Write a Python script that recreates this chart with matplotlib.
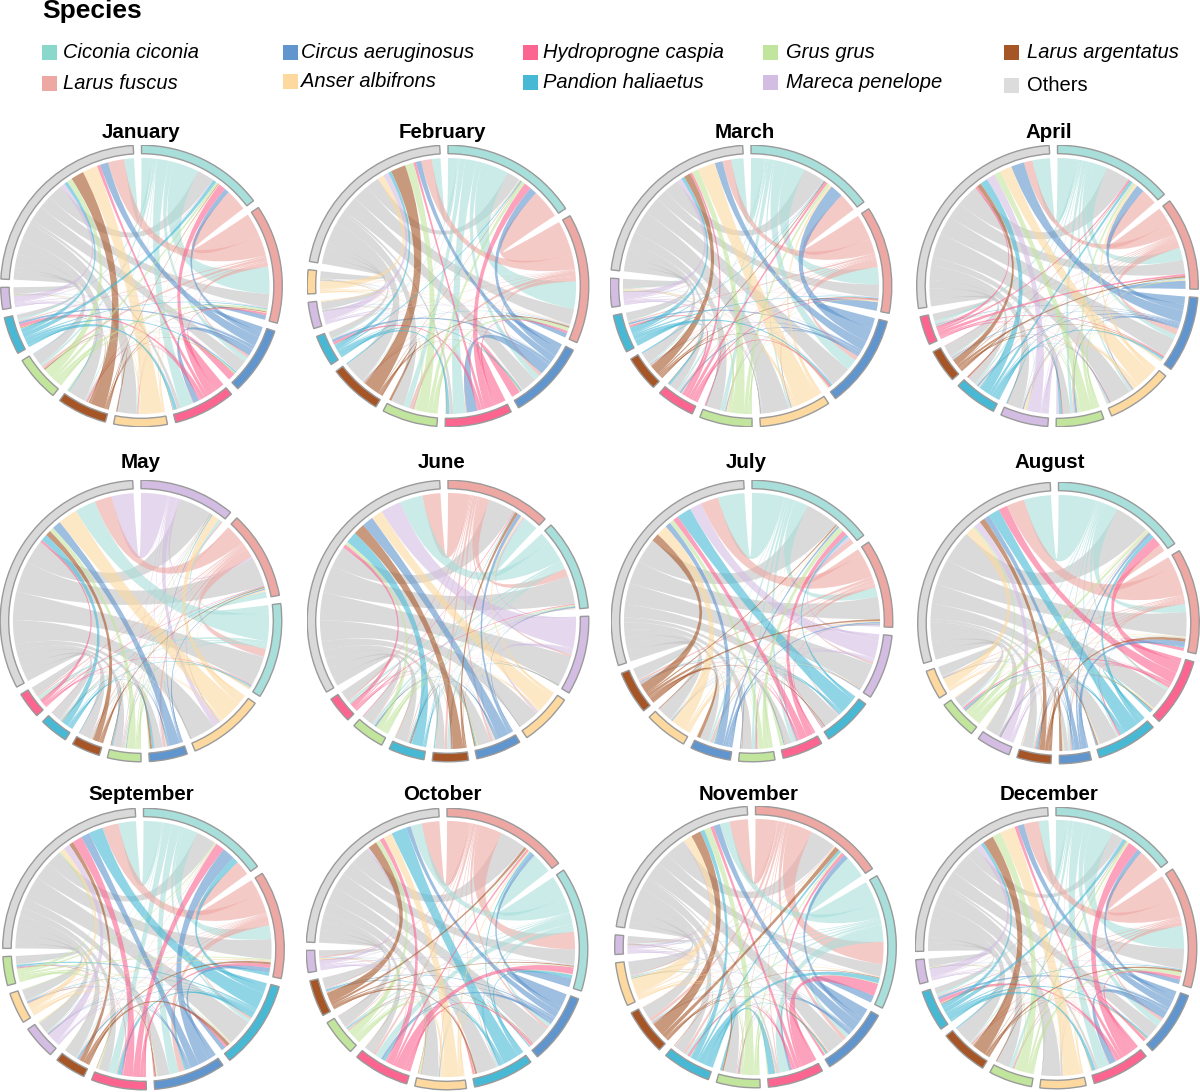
import numpy as np
import matplotlib
matplotlib.use('Agg')
import matplotlib.pyplot as plt
from matplotlib.patches import PathPatch, Rectangle, Wedge
from matplotlib.path import Path

plt.rcParams['font.family'] = ['Liberation Sans', 'DejaVu Sans']

species = ['C', 'F', 'B', 'A', 'H', 'P', 'G', 'M', 'L', 'O']
names = {'C': 'Ciconia ciconia', 'F': 'Larus fuscus', 'B': 'Circus aeruginosus', 'A': 'Anser albifrons',
         'H': 'Hydroprogne caspia', 'P': 'Pandion haliaetus', 'G': 'Grus grus', 'M': 'Mareca penelope',
         'L': 'Larus argentatus', 'O': 'Others'}
ring_col = {'C': '#a8dfda', 'F': '#eea8a3', 'B': '#6095cd', 'A': '#fdd9a0', 'H': '#fb6590',
            'P': '#47b9d5', 'G': '#c2e59d', 'M': '#d3bde3', 'L': '#a65526', 'O': '#d9d9d9'}
legend_col = dict(ring_col, C='#8ad8cc', O='#dcdcdc')
ribbon_col = dict(ring_col, O='#c2c2c2')

months = ['January', 'February', 'March', 'April', 'May', 'June', 'July', 'August',
          'September', 'October', 'November', 'December']

# sector order clockwise from 12 o'clock, sector size and outgoing wedge in degrees,
# then for each sector the incoming bands as read clockwise round it (sources i-1, i-2 ... i+1)
jan_order = list('CFBHALGPMO')
jan_size = [52.5, 49, 28, 25.6, 22, 20.6, 19, 15.5, 9, 83.4]
jan_out = [26, 25, 14, 13, 12, 9.5, 10, 9, 5, 48]
jan_in = [[7, .3, 1.5, 1, .3, .3, 3, 2, 9],
          [12, 6, .3, .4, 1, .4, .3, 1, 2],
          [1.5, 2.5, 7, .2, .8, .5, .3, .2, 4],
          [2.5, .3, 5.5, 1.5, .2, 1.5, .2, .2, .1],
          [.3, .1, .1, .3, 8, .3, .1, .1, .6],
          [.3, .5, .2, .5, .4, 7, .1, .4, .6],
          [.6, .1, .2, .1, 1.2, 1.2, 6, .2, .2],
          [.2, .3, .2, 1.5, 1, .5, 1, 2, .1],
          [.1, .4, .1, .1, .1, .1, .1, .1, 3.5],
          [2, 1.5, 2.5, 6, 7, 1.5, 3.8, 7.5, 4.5]]

feb_order = list('CFBHGLPMAO')
feb_size = [57, 54, 33, 28, 23, 22, 13, 11, 10, 77]
feb_out = [28, 28, 16, 13.5, 11, 10, 6.5, 6, 5.5, 47]
feb_in = [[5.5, .3, .2, .5, .2, 1.5, 3, 3, 12],
          [12, 7, .3, .3, .2, .6, 1.5, 1, 2],
          [1.5, 2.5, 7, .2, .2, .6, .2, .4, 4],
          [4, .4, 5, 1.2, .1, .1, 1.2, .2, .2],
          [.3, .1, 1.5, 2.5, 5, .1, .1, .1, 1],
          [.2, .2, .2, .3, .3, 9, .1, .1, .6],
          [.1, .1, 1, 1, .2, .5, 2.5, .1, .1],
          [.1, .1, .2, .1, .1, .1, .2, 3.5, .5],
          [.3, .1, .1, .3, .1, .1, .1, .1, 3],
          [3, 2.5, 1.5, 7, 4, 1.2, 2.5, 5, 4]]

mar_order = list('CFBAGHLPMO')
mar_size = [54, 45, 39, 30, 22, 16, 15, 16, 12, 81]
mar_out = [25, 25, 19, 15, 11, 8, 7.5, 9, 6, 49]
mar_in = [[8, .3, .3, .4, 1, 1, 1, 5, 7],
          [8, 6, .2, .4, .4, .5, .3, .4, 4],
          [2, 5, 9, .3, .8, .3, .8, .4, .3],
          [.4, .3, .8, 12, .5, .2, .2, .1, .3],
          [.7, .4, .3, 2, 6, .2, .2, .3, .5],
          [.2, .1, .7, .3, .8, 3, .1, .8, .2],
          [.2, .2, .1, .3, .2, .5, 4.5, .1, .6],
          [.1, .8, .2, .1, .8, .6, .4, 3.5, .1],
          [.1, .1, .1, .4, .6, .1, .1, .3, 4],
          [2, 1.5, 3, 1, 3, 8, 3.5, 4, 5.5]]

apr_order = list('CFBAGMPLHO')
apr_size = [50, 39, 32, 28, 20, 20, 18, 14, 12, 97]
apr_out = [23, 20, 15, 14, 10, 10, 10.5, 6.5, 6, 60]
apr_in = [[9, .6, .2, 1, .2, 1, 1, 3, 6],
          [6, 7, 1, .8, .3, .2, .5, .5, 4],
          [2.5, 2, 8, .4, .3, .8, .3, .4, .5],
          [.5, .5, 1, 10, .2, .2, .4, .8, .4],
          [.3, 1, .6, 1.5, 3.5, .2, .3, 1.2, 1.3],
          [.4, 1, .5, .3, .3, 6, .1, .1, .5],
          [.2, .2, .2, .7, .3, .8, 3.5, .2, .6],
          [.2, .2, .1, .1, .3, .3, .4, 4.5, .1],
          [.1, .2, .1, .1, .1, .3, .3, 1.2, 3],
          [1, 2, 3.5, 4, 3, 5.5, 6, 4, 8]]

may_order = list('MFCABGLPHO')
may_size = [40, 37, 40, 32, 16, 14, 12, 12, 11, 116]
may_out = [18, 17, 20, 16, 7.5, 6.5, 5, 5.5, 4, 67]
may_in = [[11, .1, .1, .1, .3, .3, 2.5, 1, .5],
          [1, 14, .3, .3, .5, .3, .6, .8, 3],
          [3.5, .3, 13, .3, .5, .1, .4, .2, .8],
          [.5, .7, 2.5, 11, .1, .1, .1, .2, .2],
          [.3, .1, 1, .3, 3, .1, .8, .8, .5],
          [.3, .4, .5, .3, .3, 3, .1, .5, .3],
          [.2, .2, .1, .2, .5, .1, 4.5, .1, .3],
          [.2, .2, .3, .1, .5, .2, .1, 4, .1],
          [.1, .1, .2, .1, .1, 1, .5, .1, 3],
          [1, 3, 2.5, 2, 4, 9, 9.5, 8, 10]]

jun_order = list('FCMABLPGHO')
jun_size = [44, 38, 33, 22, 19, 15, 15, 14, 11, 118]
jun_out = [19, 19, 17, 11, 9, 7, 7, 6, 4, 66]
jun_in = [[9, .3, .1, .2, 1, 1.3, .7, .8, 5],
          [3.5, 12, .4, .6, .2, .1, .5, .3, .2],
          [.2, .8, 12, .1, .1, .2, .1, .2, .3],
          [1, .1, .2, 9, .1, .1, .1, .1, .2],
          [.3, .3, .3, .8, 4, .1, .5, .4, .5],
          [.3, .2, .2, 1, 1, 3.5, .1, .3, .5],
          [.5, .5, .1, .1, .6, .4, 4.5, .2, .4],
          [.3, .2, .5, .1, .1, 1, .4, 4.5, .3],
          [.1, .1, .1, .1, .1, .1, 1, .5, 3.5],
          [1.5, 1.5, 5, 5, 5, 5, 9, 10, 8]]

jul_order = list('CFMPHGBALO')
jul_size = [53, 37, 27, 21, 17, 15, 17, 18, 18, 106]
jul_out = [26, 19, 13, 11, 9, 7, 8.5, 9.5, 10, 58]
jul_in = [[13, .5, .3, .8, 2, 2, 1, 1.2, 2],
          [5, 12, 1, .5, .8, .2, .3, .4, .8],
          [.8, .2, 11, .1, .3, .2, .1, .2, .3],
          [.3, .3, .1, 7, .4, .2, .4, .2, .5],
          [.5, .3, .3, 1.5, 2.5, .1, .2, .5, 1.5],
          [.5, .3, .2, .3, 1, 4, .2, .2, .5],
          [.5, .1, .2, .2, .8, 1, 4, 1.5, .3],
          [.3, .1, .1, .2, .2, .2, .3, 7, .4],
          [.2, .3, .2, .3, .4, .1, 1, .3, 5.5],
          [3.5, 5, 2.5, 2, 2.5, 6.5, 5.5, 8, 12]]

aug_order = list('CFHPBLMGAO')
aug_size = [55, 43, 28, 25, 13, 14, 14, 16, 12, 102]
aug_out = [27, 22, 14, 13, 7, 6, 6, 8, 6, 60]
aug_in = [[14.5, .3, 1, .3, .2, 1, 1.5, 4, 3],
          [4, 12, .3, .3, .3, 1.5, 2.5, .5, 1.5],
          [.5, 1, 9, .2, .4, .1, .3, .3, 1],
          [.6, .3, .6, 7, .2, .2, .2, .5, .5],
          [.3, .1, .5, .5, 1.5, .1, .3, .3, 1],
          [.5, .4, .2, .4, .4, 3.5, .1, .2, .3],
          [.3, .3, .3, .2, .2, .2, 5.5, .2, .2],
          [.2, .2, .3, .5, .6, .3, .5, 4, .4],
          [.2, .2, .1, .1, .1, .1, .3, .3, 4],
          [4, .8, 3, 2.5, 2.5, 5, 4, 8, 12]]

sep_order = list('CFPBHLMAGO')
sep_size = [54.5, 45, 37, 30, 23, 13, 14, 13, 12, 87]
sep_out = [25, 22, 17, 14.5, 11, 5, 6.5, 6, 6, 49]
sep_in = [[8, .5, .2, .1, .1, 3.5, 5, 2.5, 6],
          [6, 9, .5, .5, .2, 1, 1.5, 2, 1.5],
          [1, 1.5, 12, .3, .3, .3, 1.5, 1, 2],
          [1, 2.5, 4, 5, .2, .2, .2, .6, .4],
          [.6, 1.3, .5, 3.5, 4, .5, .3, .2, .2],
          [.2, .4, .5, .3, .3, 5, .1, .1, .1],
          [.1, .1, .3, .2, .2, .3, 4.5, .2, .4],
          [.1, .1, .2, .3, .3, .3, .3, 4.5, .3],
          [.1, .1, .1, .3, .3, .6, .1, .2, 3],
          [.7, 2, 3, 2, 4.5, 4, 6.5, 7.5, 8]]

oct_order = list('FCBPAHGLMO')
oct_size = [52, 51, 29, 25, 21, 23, 15, 15, 9, 83]
oct_out = [25, 26, 15, 12, 11, 12, 7, 8, 4.5, 48]
oct_in = [[10, .2, 1, .3, .8, .6, .8, 1.5, 8],
          [8, 7, .3, .5, .3, 3, .4, 1.6, 4],
          [1.5, 1, 8, .2, .3, .2, 1, .2, .6],
          [.5, 1, .3, 8, .1, .8, .2, .8, .3],
          [.2, .2, .2, .3, 6.5, .2, .2, 1, .3],
          [.1, 1, 1, 3, 1, 4, .2, .1, .2],
          [.3, .3, .3, .2, .5, .3, 4, .2, .1],
          [.2, .2, .1, .5, .4, .3, .3, 4, .1],
          [.1, .1, .1, .5, .1, .1, .1, .5, 2.5],
          [1, 4, 2, 2, 4, 7, 2, 5, 8]]

nov_order = list('FCBHGPLAMO')
nov_size = [56, 56, 29, 23, 18, 20, 19, 18, 8, 78]
nov_out = [26, 28, 14, 12, 9, 11, 10, 10, 4, 47]
nov_in = [[8, .3, .4, 1.5, .8, .5, 1, 1.5, 7],
          [9, 5, .1, .3, .3, 2, .3, 5, 3],
          [1.5, 1.5, 7, .2, .3, .3, .6, .4, 1],
          [.8, 3.5, .4, .8, .1, .2, .1, 2.3, .4],
          [.5, .2, .3, .3, 4.5, .1, .1, .6, .8],
          [.3, .8, .2, .8, 1, 4, .1, .2, .2],
          [.1, .2, .3, .2, .5, 1.4, 5.5, .1, .2],
          [.1, .2, .3, .1, .1, .4, .3, 4.5, .2],
          [.1, .2, .1, .1, .1, .1, .3, .3, 2.8],
          [.5, 4, 4.5, 2, 3, 1.5, 3, 4.5, 8.5]]

dec_order = list('CFBHAGLPMO')
dec_size = [52.5, 50.5, 27, 24, 19, 18, 20, 17, 10, 88]
dec_out = [26, 24, 13.5, 12, 9.5, 9, 9, 9, 5.5, 53]
dec_in = [[5, .2, 1.5, .2, 1, .3, 4.5, 2, 10],
          [10, 9, .2, .4, .8, 1.5, .3, 1.5, 2],
          [1.5, 3, 6.5, .2, .8, .3, .3, .1, 1.5],
          [3, .3, 5, 1.2, .1, 1.5, .1, .2, .4],
          [.2, .1, .1, .4, 8, .1, .1, .1, .1],
          [.1, .2, .2, .6, 1.5, 6, .1, .1, .5],
          [.3, .1, .3, .1, .5, .5, 8, .1, .5],
          [.3, .2, .1, 1.5, 1, .4, 1, 2.5, .1],
          [.1, .1, .4, .1, .1, .1, .1, .1, 3.5],
          [2.5, 1.5, 5, 4, 7, 1.5, 3, 7, 4.5]]

orders = [jan_order, feb_order, mar_order, apr_order, may_order, jun_order,
          jul_order, aug_order, sep_order, oct_order, nov_order, dec_order]
sizes = [jan_size, feb_size, mar_size, apr_size, may_size, jun_size,
         jul_size, aug_size, sep_size, oct_size, nov_size, dec_size]
outs = [jan_out, feb_out, mar_out, apr_out, may_out, jun_out,
        jul_out, aug_out, sep_out, oct_out, nov_out, dec_out]
incoming = [jan_in, feb_in, mar_in, apr_in, may_in, jun_in,
            jul_in, aug_in, sep_in, oct_in, nov_in, dec_in]

W, H = 1200, 1092
GAP = 3.4
RIM = 0.905  # ribbon end radius, ring is 0.935-0.995

# circle centres and title positions, pixels
centres = [(141.5, 286), (448, 286), (751, 286), (1057.5, 286),
           (141, 621), (448, 621), (752, 621), (1058.5, 623),
           (143.5, 949), (447, 949), (755.5, 947), (1056, 948)]
title_x = [141, 442, 745, 1049, 141, 442, 746, 1050, 141, 442, 749, 1049]
title_y = [132, 132, 132, 132, 462, 462, 462, 462, 795, 795, 795, 795]
legend_pos = [(42, 63, 53), (42, 63, 84), (283, 301, 53), (283, 301, 82), (523, 543, 53),
              (523, 543, 83), (763, 786, 53), (763, 786, 83), (1004, 1027, 53), (1004, 1027, 86)]


def xy(deg, r=RIM):
    t = np.radians(deg)
    return np.column_stack([r * np.sin(t), r * np.cos(t)])


def ribbon(a0, a1, b0, b1):
    # both ends run clockwise, the sides are quadratic curves pulled to the centre
    arc_a = xy(np.linspace(a0, a1, 16))
    arc_b = xy(np.linspace(b0, b1, 16))
    verts = list(arc_a) + [(0, 0), arc_b[0]] + list(arc_b[1:]) + [(0, 0), arc_a[0], arc_a[0]]
    codes = ([Path.MOVETO] + [Path.LINETO] * 15 + [Path.CURVE3, Path.CURVE3] + [Path.LINETO] * 15
             + [Path.CURVE3, Path.CURVE3, Path.CLOSEPOLY])
    return Path(verts, codes)


def chord(ax, order, size, out, bands):
    n = len(order)
    flow = np.zeros((n, n))  # flow[src, dst]
    for dst in range(n):
        for k, val in enumerate(bands[dst]):
            flow[(dst - 1 - k) % n, dst] = val
    scale = (360 - n * GAP) / sum(size)

    start = 0
    out_pos, in_pos = {}, {}
    for i in range(n):
        out_w = out[i] * scale
        in_w = (size[i] - out[i]) * scale
        out_k = out_w / flow[i].sum()
        in_k = in_w / flow[:, i].sum()
        pos = start
        # outgoing wedge first, then incoming bands, both in i-1, i-2 ... order
        for k in range(1, n):
            j = (i - k) % n
            w = flow[i, j] * out_k
            out_pos[i, j] = (pos, pos + w)
            pos += w
        for k in range(1, n):
            j = (i - k) % n
            w = flow[j, i] * in_k
            in_pos[j, i] = (pos, pos + w)
            pos += w
        ax.add_patch(Wedge((0, 0), 0.995, 90 - pos, 90 - start, width=0.06, fc=ring_col[order[i]],
                           ec='#9a9a9a', lw=1))
        start = pos + GAP

    # Others goes underneath, it would grey out the coloured ribbons otherwise
    for i in sorted(range(n), key=lambda v: order[v] != 'O'):
        for j in range(n):
            if flow[i, j] > 0:
                ax.add_patch(PathPatch(ribbon(*out_pos[i, j], *in_pos[i, j]),
                                       fc=ribbon_col[order[i]], ec='none', alpha=0.6))


fig = plt.figure(figsize=(W / 100, H / 100), dpi=100)
R = 141.5
for m, (cx, cy) in enumerate(centres):
    ax = fig.add_axes([(cx - R) / W, 1 - (cy + R) / H, 2 * R / W, 2 * R / H])
    ax.set_xlim(-1, 1)
    ax.set_ylim(-1, 1)
    ax.axis('off')
    chord(ax, orders[m], sizes[m], outs[m], incoming[m])

# titles and legend sit on one pixel axes
top = fig.add_axes([0, 0, 1, 1], zorder=5)
top.set_xlim(0, W)
top.set_ylim(H, 0)
top.axis('off')
for m, name in enumerate(months):
    top.text(title_x[m], title_y[m], name, ha='center', va='center', fontsize=14.8, fontweight='bold')
top.text(42, 11, 'Species', ha='left', va='center', fontsize=19, fontweight='bold')
for s, (sx, tx, y) in zip(species, legend_pos):
    top.add_patch(Rectangle((sx, y - 8.5), 15, 15, fc=legend_col[s], ec='none'))
    top.text(tx, y - 0.5, names[s], ha='left', va='center', fontsize=14.5,
             style='normal' if s == 'O' else 'italic')

fig.savefig('out.png', dpi=100)
